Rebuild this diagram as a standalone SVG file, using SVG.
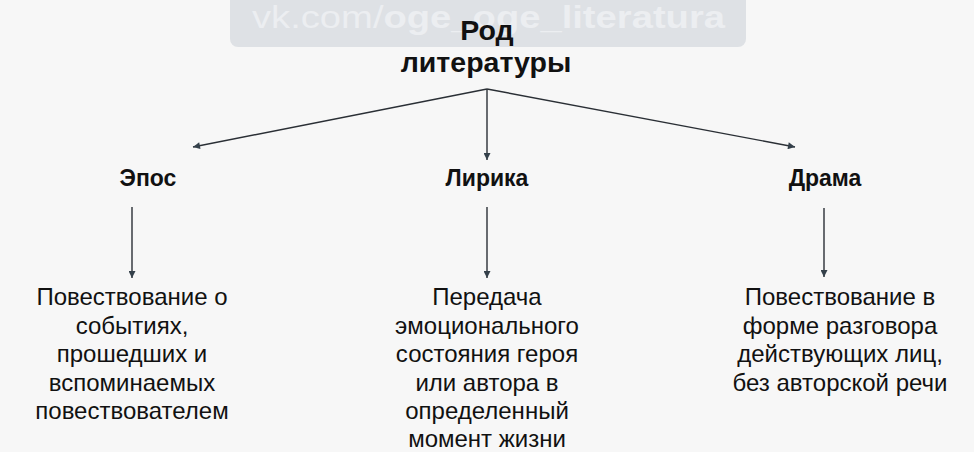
<svg xmlns="http://www.w3.org/2000/svg" width="974" height="452" viewBox="0 0 974 452">
<defs>
<style>
.bg{fill:#f7f7f7}
.wm{fill:#dee1e5}
.wmt{fill:#eceef1;font-family:"Liberation Sans",Arial,sans-serif;font-size:32px}
.title{font-family:"Liberation Sans",Arial,sans-serif;font-weight:bold;font-size:28.5px;fill:#111;text-anchor:middle}
.head{font-family:"Liberation Sans",Arial,sans-serif;font-weight:bold;font-size:23px;fill:#111;text-anchor:middle}
.desc{font-family:"Liberation Sans",Arial,sans-serif;font-size:24px;fill:#111;text-anchor:middle}
.con{stroke:#2a2f35;stroke-width:1.4;fill:none;marker-end:url(#arr)}
</style>
<marker id="arr" viewBox="0 0 10 10" refX="10" refY="5" markerWidth="8" markerHeight="7" markerUnits="userSpaceOnUse" orient="auto">
<path d="M0,0 L10,5 L0,10 z" fill="#34404a"/>
</marker>
</defs>
<rect class="bg" x="0" y="0" width="974" height="452"/>
<g id="watermark">
<rect class="wm" x="230" y="-20" width="516" height="67" rx="8"/>
<text class="wmt" x="252" y="28" textLength="473" lengthAdjust="spacingAndGlyphs">vk.com/<tspan font-weight="bold">oge_oge_literatura</tspan></text>
</g>
<g id="connectors">
<line class="con" x1="487" y1="89" x2="193" y2="147"/>
<line class="con" x1="487" y1="89" x2="487" y2="160"/>
<line class="con" x1="487" y1="89" x2="795" y2="147"/>
<line class="con" x1="132" y1="207" x2="132" y2="278"/>
<line class="con" x1="487" y1="207" x2="487" y2="278"/>
<line class="con" x1="824" y1="208" x2="824" y2="277"/>
</g>
<g id="root">
<text class="title" x="487" y="40">Род</text>
<text class="title" x="486" y="72">литературы</text>
</g>
<g id="epos">
<text class="head" x="148" y="186">Эпос</text>
</g>
<g id="lirika">
<text class="head" x="487" y="186">Лирика</text>
</g>
<g id="drama">
<text class="head" x="825" y="186">Драма</text>
</g>
<g id="epos-desc">
<text class="desc" x="132" y="305">Повествование о</text>
<text class="desc" x="132" y="334">событиях,</text>
<text class="desc" x="132" y="362">прошедших и</text>
<text class="desc" x="132" y="391">вспоминаемых</text>
<text class="desc" x="132" y="419">повествователем</text>
</g>
<g id="lirika-desc">
<text class="desc" x="487" y="305">Передача</text>
<text class="desc" x="487" y="334">эмоционального</text>
<text class="desc" x="487" y="362">состояния героя</text>
<text class="desc" x="487" y="391">или автора в</text>
<text class="desc" x="487" y="419">определенный</text>
<text class="desc" x="487" y="447">момент жизни</text>
</g>
<g id="drama-desc">
<text class="desc" x="840" y="305">Повествование в</text>
<text class="desc" x="840" y="334">форме разговора</text>
<text class="desc" x="840" y="362">действующих лиц,</text>
<text class="desc" x="840" y="391">без авторской речи</text>
</g>
</svg>
